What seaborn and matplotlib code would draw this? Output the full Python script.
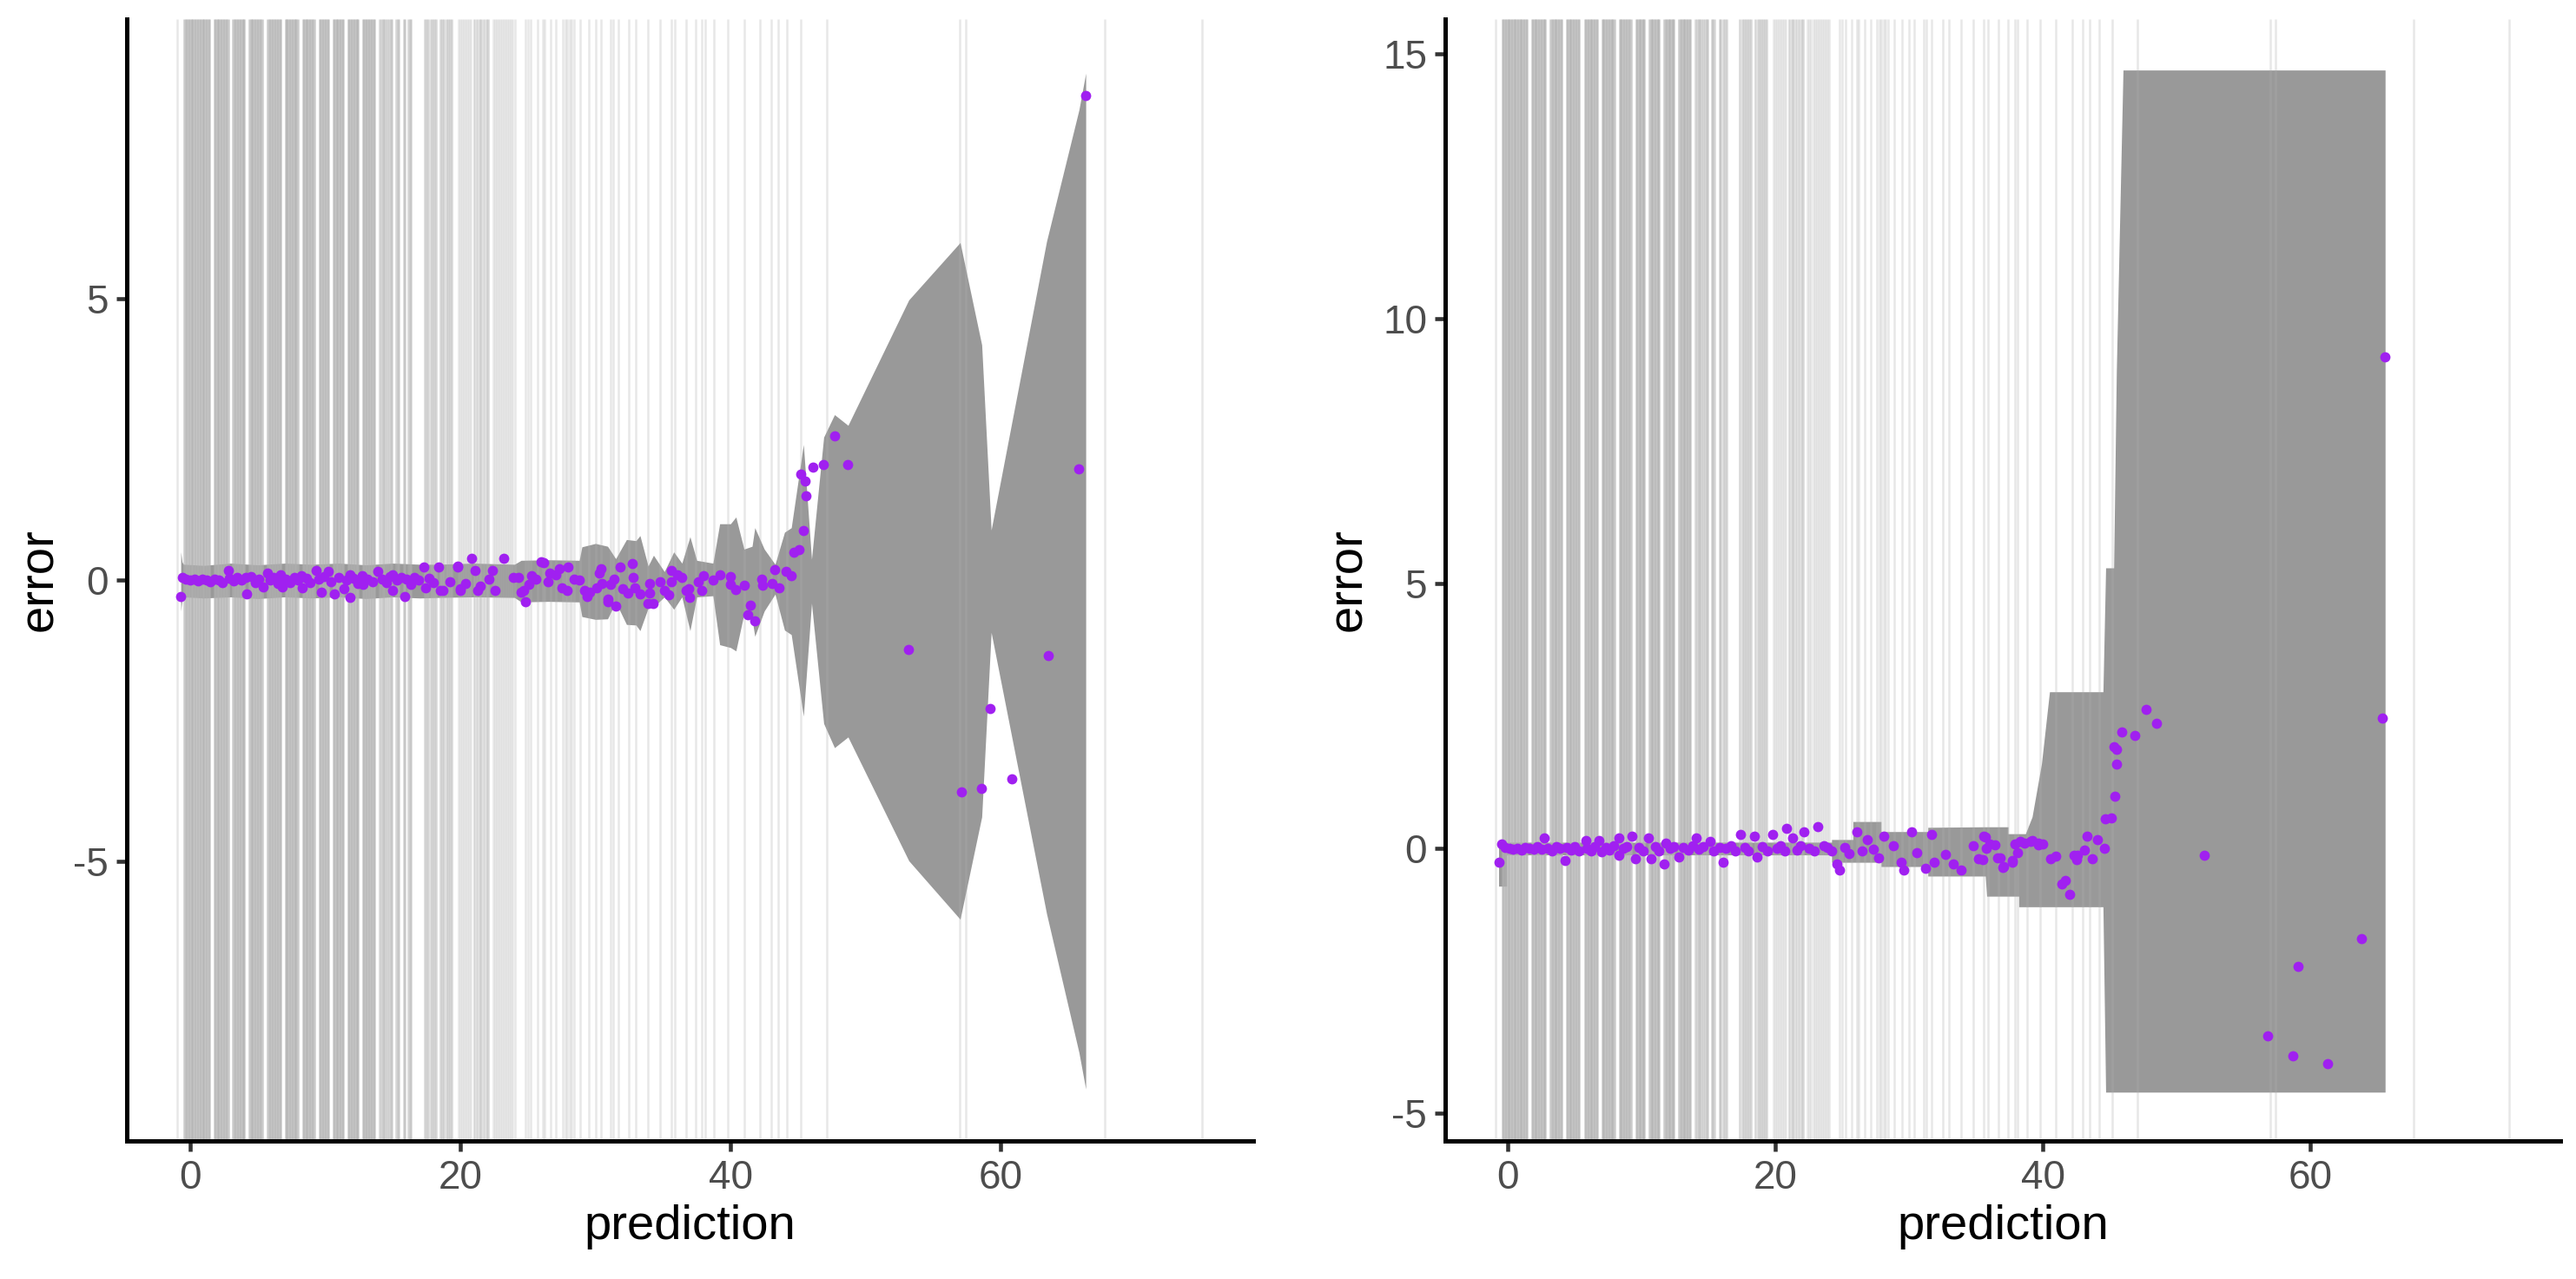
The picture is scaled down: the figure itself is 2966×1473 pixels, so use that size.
import pandas as pd
import matplotlib
matplotlib.use("Agg")
import matplotlib.pyplot as plt
import seaborn as sns

# training predictions drawn as vertical rug lines, grouped by how many cases sit there
vlines_n3 = [-0.42, -0.33, -0.24, -0.15, -0.05, 0.04, 0.13, 0.22, 0.31, 0.41, 0.5, 0.59, 0.68, 0.78, 0.87,
             0.96, 1.05, 1.15, 1.24, 1.33, 1.42,
             1.78, 1.87, 1.97, 2.06, 2.15, 2.25, 2.34, 2.43, 2.53, 2.62, 2.71, 2.8,
             3.18, 3.27, 3.37, 3.46, 3.55, 3.65, 3.74, 3.83, 3.93, 4.01,
             4.38, 4.47, 4.57, 4.66, 4.75, 4.85, 4.94, 5.03, 5.13, 5.22, 5.32,
             5.75, 5.84, 5.93, 6.03, 6.12, 6.21, 6.31, 6.4, 6.5, 6.59, 6.66,
             7.04, 7.13, 7.22, 7.32, 7.41, 7.5, 7.6, 7.69, 7.78, 7.87, 7.95,
             8.34, 8.43, 8.52, 8.62, 8.71, 8.8, 8.9, 8.99, 9.08, 9.18,
             9.58, 9.67, 9.76, 9.86, 9.95, 10.04, 10.14, 10.21,
             10.58, 10.67, 10.77, 10.86, 10.95, 11.05, 11.14, 11.23, 11.31,
             11.7, 11.79, 11.88, 11.98, 12.07, 12.16, 12.26, 12.35, 12.42,
             12.8, 12.89, 12.98, 13.08, 13.17, 13.26, 13.36, 13.45, 13.55, 13.64]
vlines_n2 = [14.02, 14.13, 14.25, 14.36, 14.48, 14.6, 14.71, 14.83, 14.93,
             15.22, 15.34, 15.45, 15.8, 15.9, 16.12, 16.24, 16.36,
             17.35, 17.5, 17.64, 17.78, 17.92, 18.06, 18.18,
             18.52, 18.66, 18.8, 18.94, 19.08, 19.22, 19.34,
             21.02, 21.2, 21.38, 21.56, 21.74, 21.92, 22.06]
vlines_n1 = [-0.96, 19.85, 19.98, 20.12, 20.25, 20.38, 20.52, 20.66, 20.78,
             22.42, 22.55, 22.68, 22.82, 22.95, 23.08, 23.22, 23.35, 23.48, 23.62, 23.75, 23.88, 24.02,
             24.82, 25.0, 25.22, 25.7, 26.1, 26.22, 26.7, 27.1, 27.6, 27.75, 27.9, 28.1, 28.25, 28.4,
             28.9, 29.5, 30.0, 30.4, 31.1, 31.3, 31.7, 32.5, 33.0, 33.9, 34.8, 35.6, 35.9, 36.7,
             37.4, 37.9, 38.1, 38.8, 39.8, 41.0, 42.2, 43.0, 43.5, 44.2, 45.2, 47.1,
             57.0, 57.4, 67.7, 74.9]

# error band, left model: (prediction, lower, upper)
band_left = [(-0.7, -0.55, 0.5), (-0.6, -0.35, 0.32), (-0.5, -0.3, 0.28), (1, -0.32, 0.26), (3, -0.3, 0.3),
             (5, -0.33, 0.27), (7, -0.3, 0.3), (9, -0.32, 0.28), (11, -0.3, 0.3), (13, -0.33, 0.27),
             (15, -0.3, 0.3), (17, -0.32, 0.28), (18.4, -0.31, 0.28), (21, -0.3, 0.3), (24, -0.31, 0.28),
             (24.5, -0.39, 0.35), (26.5, -0.38, 0.36), (28.8, -0.39, 0.35), (29.0, -0.65, 0.59),
             (30.0, -0.7, 0.65), (30.9, -0.69, 0.6), (31.5, -0.39, 0.38), (32.3, -0.79, 0.72),
             (33.0, -0.8, 0.7), (33.3, -0.9, 0.79), (33.9, -0.5, 0.25), (34.3, -0.48, 0.44),
             (35.1, -0.3, 0.15), (35.8, -0.52, 0.5), (36.4, -0.3, 0.3), (37.0, -0.9, 0.77),
             (37.5, -0.3, 0.35), (38.7, -0.28, 0.3), (39.2, -1.15, 1.0), (40.0, -1.2, 1.0),
             (40.4, -1.26, 1.12), (41.0, -0.6, 0.55), (41.6, -0.7, 0.6), (41.8, -1.0, 0.93),
             (42.5, -0.55, 0.55), (43.3, -0.25, 0.28), (44.0, -0.89, 0.85), (44.5, -0.97, 0.93),
             (45.4, -2.42, 2.41), (46.0, -0.41, 0.37), (46.9, -2.55, 2.54), (47.7, -2.98, 2.94),
             (48.7, -2.79, 2.75), (53.2, -4.99, 4.98), (57.0, -6.03, 6.0), (58.6, -4.21, 4.18),
             (59.3, -0.93, 0.89), (63.4, -5.93, 6.02), (65.8, -8.4, 8.36), (66.3, -9.05, 9.01)]

# error band, right model (stepwise)
band_right = [(-0.7, -0.71, 0.12), (-0.1, -0.71, 0.12), (-0.1, -0.12, 0.12), (24.2, -0.12, 0.12),
              (24.2, -0.26, 0.17), (25.8, -0.26, 0.17), (25.8, -0.26, 0.51), (27.9, -0.26, 0.51),
              (27.9, -0.34, 0.32), (31.4, -0.34, 0.32), (31.4, -0.52, 0.4), (35.7, -0.52, 0.41),
              (35.8, -0.9, 0.41), (37.4, -0.9, 0.41), (37.4, -0.9, 0.28), (38.2, -0.9, 0.28),
              (38.2, -1.1, 0.28), (38.7, -1.1, 0.28), (39.2, -1.1, 0.6), (39.9, -1.1, 1.6),
              (40.5, -1.1, 2.96), (44.5, -1.1, 2.96), (44.7, -4.6, 5.3), (45.3, -4.6, 5.3),
              (45.5, -4.6, 9.0), (46.0, -4.6, 14.7), (65.6, -4.6, 14.7)]

# test points: (prediction, error)
points_left = [(-0.7, -0.29), (-0.6, 0.05), (-0.3, 0.02), (0.0, 0.0), (0.3, 0.01), (0.6, -0.02), (0.9, 0.01),
               (1.2, 0.0), (1.5, -0.03), (1.8, 0.02), (2.1, 0.0), (2.4, -0.04), (2.8, 0.17), (2.9, 0.03),
               (3.2, -0.02), (3.5, 0.05), (3.8, 0.0), (4.2, -0.24), (4.1, 0.04), (4.5, 0.06), (4.8, -0.05),
               (5.1, 0.02), (5.4, -0.13), (5.7, 0.12), (5.9, 0.0), (6.2, 0.04), (6.5, -0.06), (6.7, 0.1),
               (6.8, -0.13), (7.1, 0.02), (7.4, -0.04), (7.7, 0.05), (8.0, 0.0), (8.2, 0.08), (8.3, -0.14),
               (8.6, 0.03), (8.9, -0.05), (9.3, 0.17), (9.5, 0.02), (9.7, -0.21), (9.9, 0.06), (10.2, 0.15),
               (10.4, -0.03), (10.7, -0.24), (11.0, 0.04), (11.4, -0.15), (11.6, 0.0), (11.8, 0.1),
               (11.8, -0.31), (12.1, 0.03), (12.4, -0.06), (12.7, 0.08), (12.8, -0.08), (13.1, 0.02),
               (13.5, -0.03), (13.9, 0.15), (14.2, 0.02), (14.5, -0.05), (14.8, 0.06), (15.0, 0.1),
               (15.0, -0.19), (15.3, 0.0), (15.6, 0.04), (15.9, -0.29), (16.0, 0.02), (16.3, -0.08),
               (16.6, 0.05), (16.9, 0.0), (17.3, 0.23), (17.4, -0.14), (17.7, 0.03), (18.0, -0.04),
               (18.4, 0.23), (18.5, -0.19), (18.7, -0.19), (19.2, -0.03), (19.8, 0.25), (19.8, 0.23),
               (20.0, -0.19), (20.0, -0.15), (20.4, -0.06), (20.8, 0.39), (21.1, 0.17), (21.3, -0.19),
               (21.5, -0.11), (22.1, 0.02), (22.4, 0.17), (22.6, -0.19), (23.2, 0.39), (23.9, 0.05),
               (24.3, 0.05), (24.5, -0.22), (24.7, -0.19), (24.8, -0.39), (25.1, -0.08), (25.3, 0.08),
               (25.6, 0.02), (26.0, 0.32), (26.2, 0.31), (26.5, -0.03), (26.6, 0.12), (27.1, 0.09),
               (27.3, 0.2), (27.5, -0.14), (27.9, -0.19), (28.0, 0.23), (28.4, 0.02), (28.8, 0.0),
               (29.2, -0.19), (29.4, -0.29), (29.6, -0.22), (30.1, -0.14), (30.3, 0.12), (30.4, 0.2),
               (30.5, -0.06), (30.9, -0.34), (30.9, -0.39), (31.1, -0.08), (31.4, 0.02), (31.5, -0.46),
               (31.8, 0.23), (32.0, -0.15), (32.4, -0.23), (32.7, 0.29), (32.8, 0.05), (32.9, -0.14),
               (33.3, -0.25), (33.9, -0.42), (34.0, -0.06), (34.0, -0.23), (34.3, -0.42), (34.8, -0.03),
               (35.1, -0.19), (35.4, -0.26), (35.6, 0.17), (35.6, -0.03), (36.1, 0.09), (36.4, 0.05),
               (36.7, -0.19), (36.9, -0.16), (37.0, -0.31), (37.6, -0.03), (37.9, -0.19), (38.0, 0.07),
               (38.7, 0.0), (39.2, 0.1), (40.0, 0.06), (40.0, -0.08), (40.4, -0.17), (41.0, -0.09),
               (41.3, -0.62), (41.5, -0.45), (41.8, -0.73), (42.3, 0.02), (42.4, -0.1), (43.1, -0.06),
               (43.3, 0.19), (43.6, -0.14), (44.1, 0.15), (44.5, 0.07), (44.7, 0.5), (45.1, 0.54),
               (45.2, 1.89), (45.4, 0.88), (45.5, 1.76), (45.6, 1.5), (46.1, 2.0), (46.9, 2.06),
               (47.7, 2.57), (48.7, 2.05), (53.2, -1.23), (57.1, -3.76), (58.6, -3.71), (59.2, -2.28),
               (60.8, -3.54), (63.5, -1.34), (65.8, 1.98), (66.3, 8.61)]

points_right = [(-0.7, -0.26), (-0.5, 0.08), (-0.2, 0.02), (0.1, 0.0), (0.4, -0.02), (0.7, 0.01), (1.0, -0.03),
                (1.3, 0.02), (1.6, 0.0), (1.9, -0.02), (2.2, 0.03), (2.5, -0.01), (2.7, 0.2), (3.0, 0.0),
                (3.3, -0.04), (3.6, 0.03), (3.9, 0.0), (4.3, -0.23), (4.4, 0.02), (4.7, -0.03), (5.0, 0.04),
                (5.3, -0.05), (5.8, 0.15), (5.9, 0.0), (6.2, -0.04), (6.5, 0.03), (6.8, 0.15), (7.0, -0.06),
                (7.3, 0.02), (7.6, -0.03), (7.9, 0.05), (8.3, 0.2), (8.3, -0.13), (8.6, 0.0), (8.9, 0.04),
                (9.3, 0.23), (9.5, -0.2), (9.8, 0.02), (10.1, -0.05), (10.5, 0.2), (10.7, -0.2), (11.0, 0.03),
                (11.3, -0.04), (11.7, -0.29), (11.8, 0.11), (12.1, 0.0), (12.4, 0.04), (12.8, -0.16),
                (13.1, 0.02), (13.5, -0.03), (13.8, 0.05), (14.1, 0.2), (14.3, -0.01), (14.6, 0.03),
                (15.1, 0.14), (15.4, -0.05), (15.8, 0.02), (16.1, -0.26), (16.3, 0.0), (16.7, 0.05),
                (17.0, -0.04), (17.4, 0.26), (17.7, 0.02), (18.0, -0.05), (18.4, 0.23), (18.6, -0.16),
                (19.0, 0.03), (19.4, -0.04), (19.8, 0.26), (20.1, 0.0), (20.4, 0.06), (20.7, -0.05),
                (20.8, 0.38), (21.3, 0.2), (21.6, -0.03), (21.9, 0.05), (22.1, 0.32), (22.5, 0.0),
                (22.9, -0.04), (23.2, 0.41), (23.6, 0.05), (23.9, 0.02), (24.2, -0.05), (24.6, -0.29),
                (24.8, -0.41), (25.2, 0.02), (25.5, -0.1), (26.1, 0.32), (26.5, -0.05), (26.9, 0.17),
                (27.3, -0.02), (27.7, -0.17), (28.1, 0.23), (28.8, 0.05), (29.4, -0.26), (29.6, -0.41),
                (30.2, 0.32), (30.6, -0.08), (31.2, -0.38), (31.7, 0.26), (31.9, -0.26), (32.7, -0.11),
                (33.3, -0.29), (33.9, -0.41), (34.8, 0.05), (35.2, -0.2), (35.5, -0.21), (35.6, 0.23),
                (35.7, 0.21), (35.8, 0.0), (36.0, 0.08), (36.4, 0.07), (36.6, -0.17), (36.8, -0.18),
                (37.0, -0.35), (37.1, -0.34), (37.7, -0.26), (37.7, -0.23), (37.9, 0.09), (38.1, -0.08),
                (38.3, 0.14), (38.6, 0.11), (39.1, 0.14), (39.2, 0.15), (39.7, 0.11), (39.7, 0.07),
                (40.0, 0.09), (40.6, -0.2), (41.0, -0.15), (41.4, -0.67), (41.7, -0.6), (42.0, -0.87),
                (42.3, -0.13), (42.5, -0.21), (42.6, -0.13), (43.1, -0.03), (43.3, 0.23), (43.7, -0.19),
                (44.1, 0.17), (44.6, 0.0), (44.7, 0.56), (45.1, 0.58), (45.3, 1.92), (45.4, 0.99),
                (45.5, 1.87), (45.5, 1.59), (45.9, 2.2), (46.9, 2.14), (47.7, 2.63), (48.5, 2.37),
                (52.1, -0.12), (56.8, -3.54), (58.7, -3.91), (59.1, -2.22), (61.3, -4.06), (63.8, -1.7),
                (65.4, 2.47), (65.6, 9.28)]

y_ticks_left = [-5, 0, 5]
y_ticks_right = [-5, 0, 5, 10, 15]
x_ticks = [0, 20, 40, 60]

sns.set_theme(style="ticks")
plt.rcParams["font.family"] = ["Liberation Sans", "DejaVu Sans"]
plt.rcParams["axes.unicode_minus"] = False

fig = plt.figure(figsize=(2966 / 300, 1473 / 300), dpi=300)
ax_l = fig.add_axes([0.0492, 0.108, 0.4373, 0.877])
ax_r = fig.add_axes([0.5610, 0.108, 0.4329, 0.877])

panels = [(ax_l, band_left, points_left, (-9.97, 9.97), y_ticks_left),
          (ax_r, band_right, points_right, (-5.52, 15.66), y_ticks_right)]

for ax, band, pts, ylim, yticks in panels:
    bdf = pd.DataFrame(band, columns=["prediction", "lower", "upper"])
    ax.fill_between(bdf["prediction"], bdf["lower"], bdf["upper"],
                    color="#999999", linewidth=0, zorder=1)

    for n, xs in ((3, vlines_n3), (2, vlines_n2), (1, vlines_n1)):
        sns.rugplot(x=xs, height=1, ax=ax, color="#b0b0b0", alpha=1 - 0.7 ** n,
                    linewidth=0.6, expand_margins=False, zorder=2)

    pdf = pd.DataFrame(pts, columns=["prediction", "error"])
    sns.scatterplot(data=pdf, x="prediction", y="error", ax=ax, color="#A020F0",
                    s=8, linewidth=0, zorder=3)

    ax.set_xlim(-4.7, 78.7)
    ax.set_ylim(*ylim)
    ax.set_xticks(x_ticks)
    ax.set_yticks(yticks)
    ax.set_xlabel("prediction", fontsize=13.5, color="black", labelpad=2)
    ax.set_ylabel("error", fontsize=13.5, color="black", labelpad=3)
    ax.tick_params(axis="both", labelsize=11, labelcolor="#4D4D4D", color="#333333",
                   length=2.8, width=1.1, pad=2.2)
    for side in ("top", "right"):
        ax.spines[side].set_visible(False)
    for side in ("left", "bottom"):
        ax.spines[side].set_linewidth(1.2)
        ax.spines[side].set_color("black")
    ax.set_facecolor("white")

fig.savefig("out.png", dpi=300, facecolor="white")
